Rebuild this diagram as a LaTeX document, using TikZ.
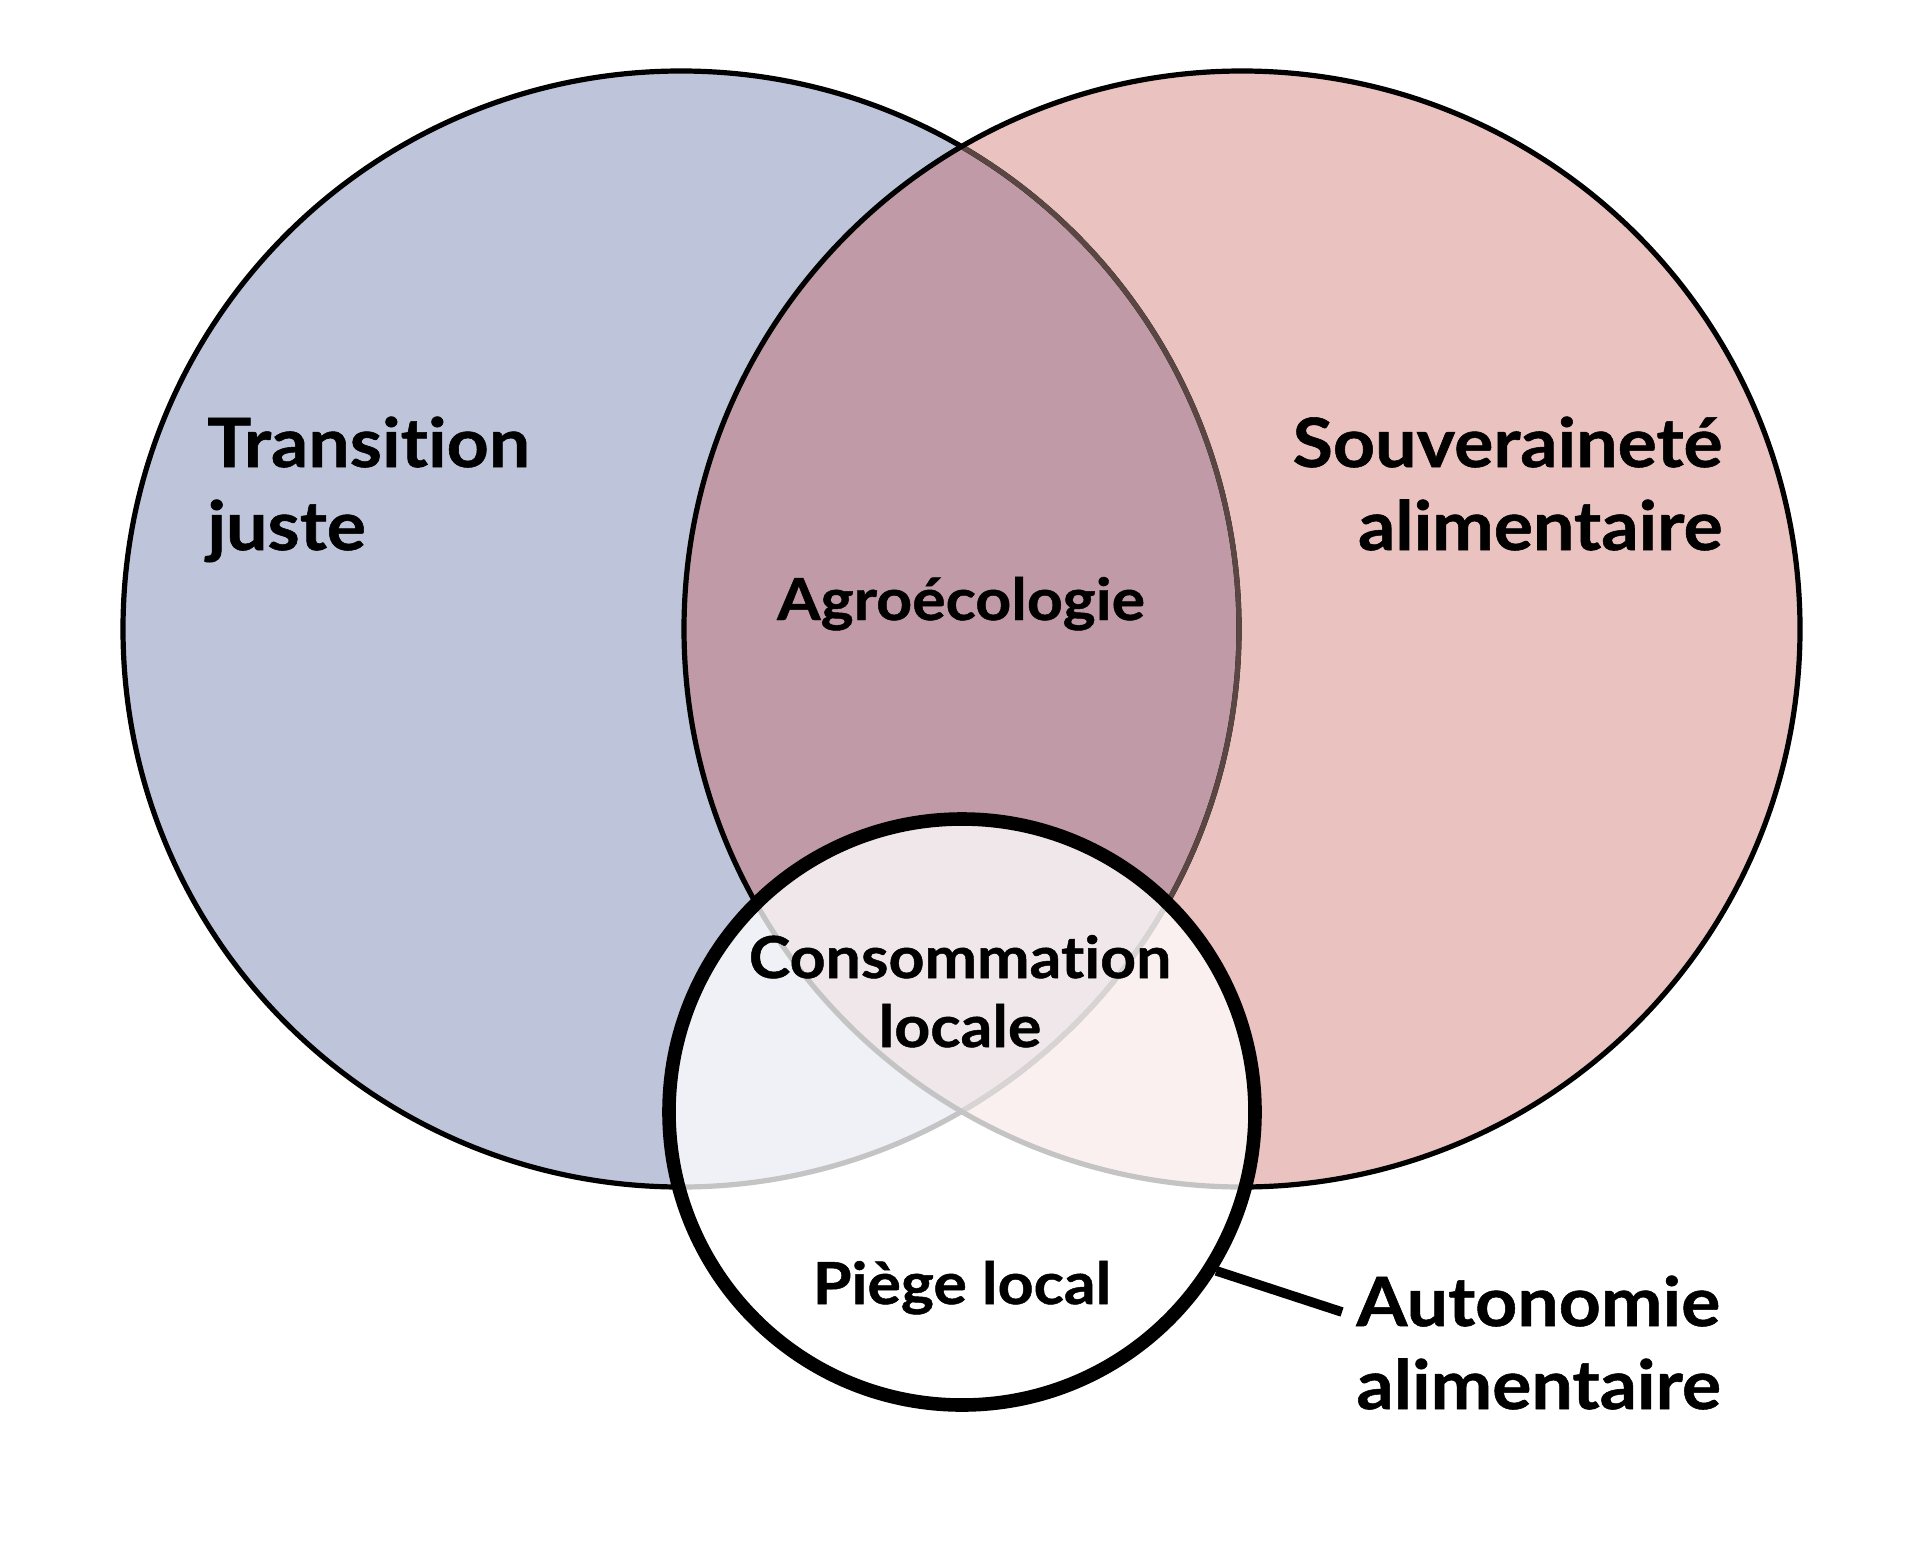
\documentclass[tikz,border=0pt]{standalone}
\usepackage{fontspec}
\setmainfont{Lato}[Ligatures=NoCommon, FakeStretch=1.08, FakeBold=0.8]
\definecolor{blueC}{HTML}{BEC5DA}
\definecolor{pinkC}{HTML}{EAC2C0}
\definecolor{mauveC}{HTML}{C09BA7}
\definecolor{brownC}{HTML}{5A4642}
\begin{document}
\begin{tikzpicture}[x=0.5pt,y=-0.5pt,
  biglbl/.style={font=\bfseries\fontsize{34}{41.5}\selectfont, inner sep=0pt, text=black},
  midlbl/.style={font=\bfseries\fontsize{29}{34.5}\selectfont, inner sep=0pt, text=black},
  autolbl/.style={font=\bfseries\fontsize{34}{41.5}\selectfont, inner sep=0pt, text=black},
  ring/.style={line width=2.6pt},
  smallring/.style={circle, draw=black, line width=6.8pt, fill=white, fill opacity=0.77, minimum size=293pt, inner sep=0pt},
  link/.style={line width=4.8pt, line cap=butt}]
\useasboundingbox (0,0) rectangle (1920,1547);
\fill[white] (0,0) rectangle (1920,1547);
\coordinate (L) at (681,629);
\coordinate (R) at (1242,629);
\coordinate (S) at (962,1112);
\coordinate (aend) at (1342,1312);
\fill[blueC] (L) circle[radius=279pt];
\fill[pinkC] (R) circle[radius=279pt];
\begin{scope}
  \clip (L) circle[radius=279pt];
  \fill[mauveC] (R) circle[radius=279pt];
\end{scope}
\draw[ring] (L) circle[radius=279pt];
\begin{scope}
  \clip (R) circle[radius=279pt];
  \draw[ring, brownC] (L) circle[radius=279pt];
\end{scope}
\draw[ring] (R) circle[radius=279pt];
\node[smallring] (small) at (S) {};
\draw[link] (small.-32) -- (aend);
\node[biglbl, anchor=base west, align=left] (tj) at (207,550) {Transition\\juste};
\node[biglbl, anchor=base east, align=right] (sa) at (1723,550) {Souveraineté\\alimentaire};
\node[midlbl, anchor=base] (agro) at (961,620) {Agroécologie};
\node[midlbl, anchor=base, align=center] (cons) at (960,1047) {Consommation\\locale};
\node[midlbl, anchor=base] (piege) at (962,1304) {Piège local};
\node[autolbl, anchor=base west, align=left] (auto) at (1356,1409) {Autonomie\\alimentaire};
\end{tikzpicture}
\end{document}
